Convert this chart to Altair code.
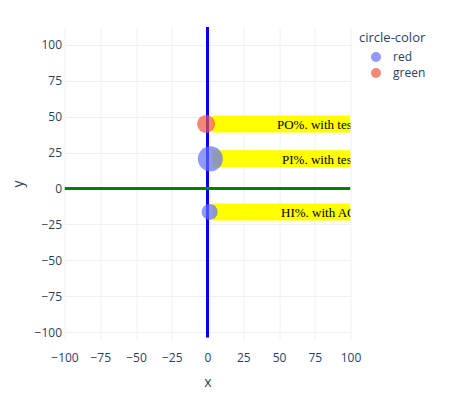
import altair as alt
import pandas as pd

# ---- data ----
labels = ["PO", "PI", "HI"]
point_x = [-1.0, 2.0, 1.5]
point_y = [45.0, 20.7, -16.3]
marker_size = [18, 25, 16]
circle_color = ["green", "red", "red"]
note_text = ["PO%. with test results", "PI%. with test results", "HI%. with AQ results"]
note_x = [48.6, 52.1, 51.4]
bar_start = [3.5, 3.5, 3.5]
bar_end = [100, 100, 100]

axis_ticks = [-100, -75, -50, -25, 0, 25, 50, 75, 100]
x_range = [-100, 100]
y_range = [-105.5, 112.5]

vline_x = [0]
vline_y = [112.5]
vline_y2 = [-103.8]
hline_y = [0]
hline_x = [-100]
hline_x2 = [100]

df = pd.DataFrame({
    "label": labels, "x": point_x, "y": point_y, "msize": marker_size,
    "circle-color": circle_color, "text": note_text, "tx": note_x,
    "bx": bar_start, "bx2": bar_end,
})
vdf = pd.DataFrame({"x": vline_x, "y": vline_y, "y2": vline_y2})
hdf = pd.DataFrame({"y": hline_y, "x": hline_x, "x2": hline_x2})

xscale = alt.Scale(domain=x_range, nice=False, zero=False)
yscale = alt.Scale(domain=y_range, nice=False, zero=False)
xax = alt.Axis(values=axis_ticks, title="x", labelPadding=12, titlePadding=12,
               labelOverlap=False, labelFlush=False)
yax = alt.Axis(values=axis_ticks, title="y", labelPadding=3, titlePadding=9,
               labelOverlap=False, labelFlush=False)

X = alt.X("x:Q", scale=xscale, axis=xax)
Y = alt.Y("y:Q", scale=yscale, axis=yax)

bars = alt.Chart(df).mark_rule(color="yellow", strokeWidth=17, strokeCap="butt", clip=True).encode(
    x=alt.X("bx:Q", scale=xscale, axis=xax), x2="bx2:Q", y=Y
)

vline = alt.Chart(vdf).mark_rule(color="blue", strokeWidth=3, clip=True).encode(
    x=X, y=alt.Y("y:Q", scale=yscale, axis=yax), y2="y2:Q"
)
hline = alt.Chart(hdf).mark_rule(color="green", strokeWidth=3, clip=True).encode(
    x=X, x2="x2:Q", y=Y
)

points = alt.Chart(df).mark_circle(opacity=0.7, clip=True).encode(
    x=X, y=Y,
    size=alt.Size("msize:Q", scale=alt.Scale(type="pow", exponent=2, domain=[0, 25], range=[0, 625]), legend=None),
    color=alt.Color(
        "circle-color:N",
        scale=alt.Scale(domain=["red", "green"], range=["#636EFA", "#EF553B"]),
        legend=alt.Legend(
            title="circle-color", orient="none", legendX=294.5, legendY=5,
            symbolType="circle", symbolSize=100, symbolOpacity=0.7,
            symbolOffset=11, labelOffset=11, rowPadding=4, titlePadding=6,
        ),
    ),
)

texts = alt.Chart(df).mark_text(
    align="left", baseline="middle", font="Liberation Serif", fontSize=13, color="black", clip=True, dy=1
).encode(x=alt.X("tx:Q", scale=xscale, axis=xax), y=Y, text="text:N")

chart = alt.layer(bars, vline, hline, points, texts).properties(
    width=286, height=313,
    autosize=alt.AutoSizeParams(type="none"),
    padding={"left": 56.5, "top": 19, "right": 115, "bottom": 52},
    background="white",
).configure_view(stroke=None).configure_axis(
    domain=False, ticks=False, gridColor="#EBF0F8", gridWidth=1,
    labelColor="#2a3f5f", labelFont="Open Sans", labelFontSize=12,
    titleColor="#2a3f5f", titleFont="Open Sans", titleFontSize=14, titleFontWeight="normal",
).configure_legend(
    titleColor="#2a3f5f", titleFont="Open Sans", titleFontSize=13, titleFontWeight="normal",
    labelColor="#2a3f5f", labelFont="Open Sans", labelFontSize=12,
)

chart.save("out.html", embed_options={"renderer": "svg", "actions": False})
